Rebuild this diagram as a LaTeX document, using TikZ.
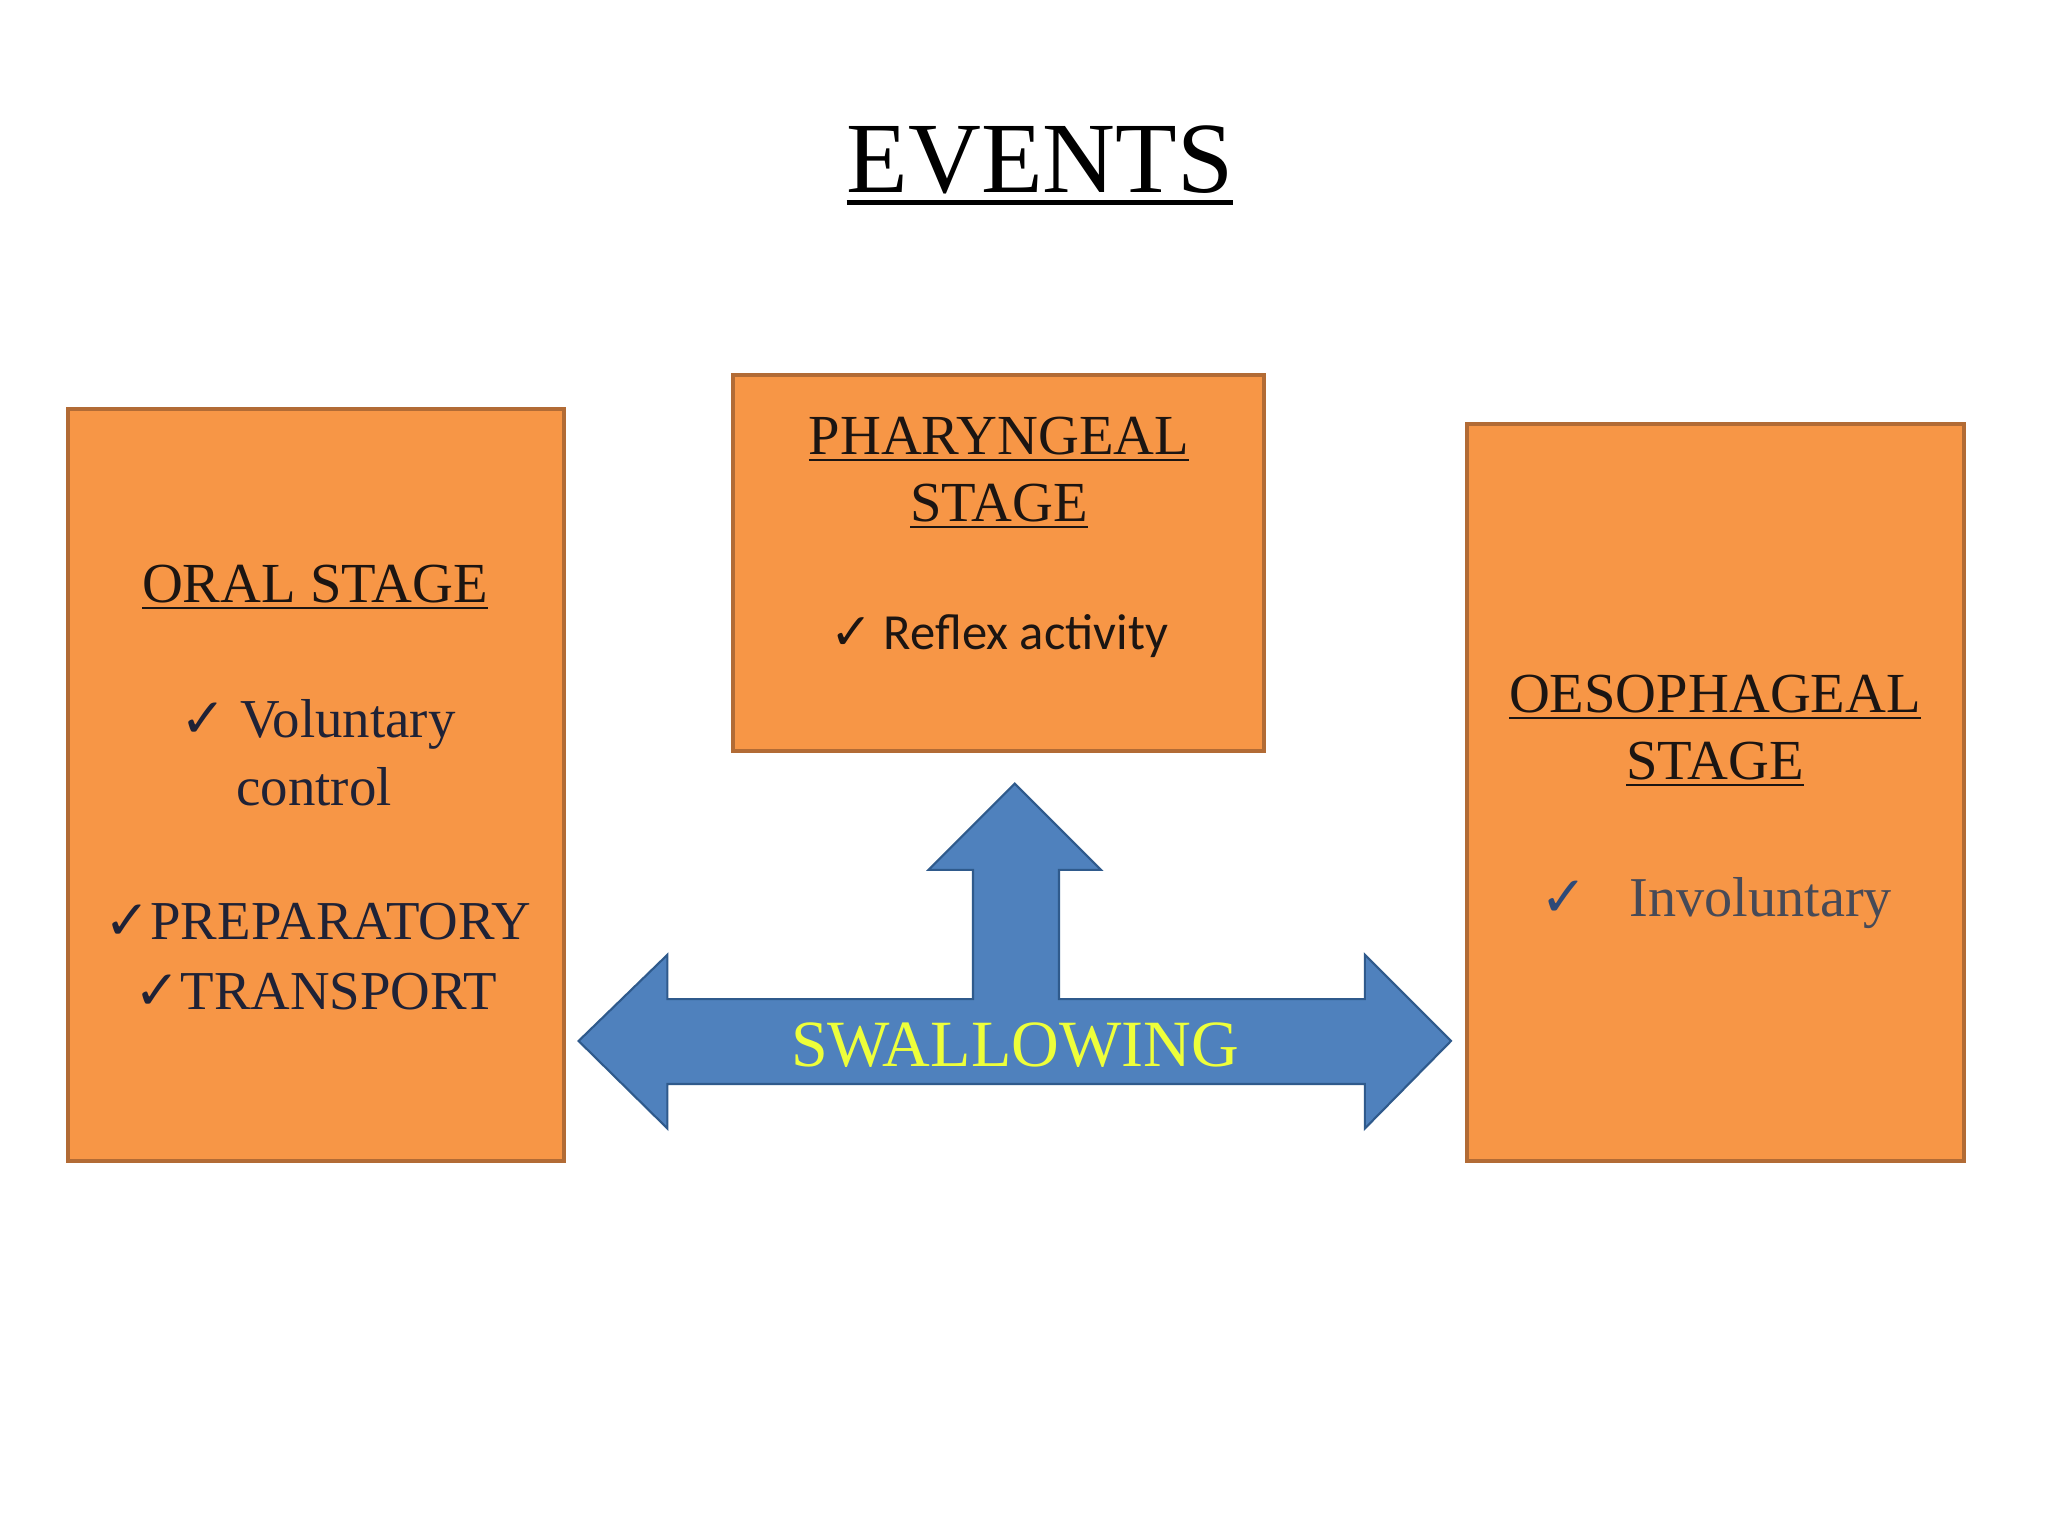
\documentclass[tikz,border=0pt]{standalone}
\usepackage{fontspec}
\setmainfont{Liberation Serif}
\newfontfamily\calfont{Carlito}
\newfontfamily\tickfont{DejaVu Sans}
\usepackage{tikz}
\definecolor{stageOrange}{HTML}{F79646}
\definecolor{stageEdge}{HTML}{B26B35}
\definecolor{swallowBlue}{HTML}{4F81BD}
\definecolor{swallowEdge}{HTML}{2F5A8C}
\definecolor{swallowText}{HTML}{EEFF3A}
\definecolor{inkDark}{HTML}{1C1512}
\definecolor{inkNavy}{HTML}{1F2236}
\definecolor{inkGrey}{HTML}{474A57}
\definecolor{tickBlue}{HTML}{2E4A78}
\newcommand{\tickmark}{{\tickfont\char"2713}}
\newcommand{\ulword}[1]{\setbox0\hbox{#1}\rlap{\rule[-0.115em]{\wd0}{0.045em}}\box0}

\begin{document}
\begin{tikzpicture}[every node/.style={inner sep=0pt},
      stagebox/.style={draw=stageEdge, fill=stageOrange, line width=1pt},
      heading/.style={anchor=base, text=inkDark, font=\fontsize{16.1}{19}\selectfont},
      bodytext/.style={anchor=base, text=inkNavy, font=\fontsize{15.6}{19}\selectfont}]
      \useasboundingbox[fill=white] (0,0) rectangle (20.48,15.36);

      % Title
      \node[anchor=base, font=\fontsize{28.7}{34}\selectfont] (title) at (10.40,13.43) {\ulword{EVENTS}};

      % Stage boxes
      \node[stagebox, minimum width=4.96cm, minimum height=7.52cm] (oral) at (3.16,7.51) {};
      \node[stagebox, minimum width=5.31cm, minimum height=3.76cm] (pharynx) at (9.985,9.73) {};
      \node[stagebox, minimum width=4.97cm, minimum height=7.37cm] (oeso) at (17.155,7.435) {};

      % Oral stage
      \node[heading] (oralhead) at (3.15,9.33) {\ulword{ORAL STAGE}};
      \node[bodytext] (volun) at (3.18,7.98) {\tickmark\ Voluntary};
      \node[bodytext] (control) at (3.14,7.30) {control};
      \node[bodytext] (prep) at (3.18,5.96) {\tickmark PREPARATORY};
      \node[bodytext] (trans) at (3.16,5.26) {\tickmark TRANSPORT};

      % Pharyngeal stage
      \node[heading] (pharhead) at (9.99,10.81) {\ulword{PHARYNGEAL}};
      \node[heading] (pharstage) at (9.99,10.14) {\ulword{STAGE}};
      \node[anchor=base, text=inkDark, font=\calfont\fontsize{14.4}{17}\selectfont] (reflex) at (9.99,8.86) {\tickmark\ Reflex activity};

      % Oesophageal stage
      \node[heading] (oesohead) at (17.15,8.23) {\ulword{OESOPHAGEAL}};
      \node[heading] (oesostage) at (17.15,7.56) {\ulword{STAGE}};
      \node[anchor=base, text=inkGrey, font=\fontsize{16}{19}\selectfont] (invol) at (17.16,6.19) {\textcolor{tickBlue}{\tickmark}\hspace{0.75em}Involuntary};

      % Swallowing arrow
      \draw[fill=swallowBlue, draw=swallowEdge, line width=0.6pt, line join=miter]
            (5.786,4.95) -- (6.674,5.812) -- (6.674,5.368) -- (9.73,5.368) -- (9.73,6.661)
            -- (9.286,6.661) -- (10.148,7.523) -- (11.01,6.661) -- (10.59,6.661) -- (10.59,5.368)
            -- (13.649,5.368) -- (13.649,5.812) -- (14.51,4.95) -- (13.649,4.075) -- (13.649,4.52)
            -- (6.674,4.52) -- (6.674,4.075) -- cycle;
      \node[anchor=base, text=swallowText, font=\fontsize{18.8}{22}\selectfont] (swallow) at (10.15,4.69) {SWALLOWING};
\end{tikzpicture}
\end{document}
